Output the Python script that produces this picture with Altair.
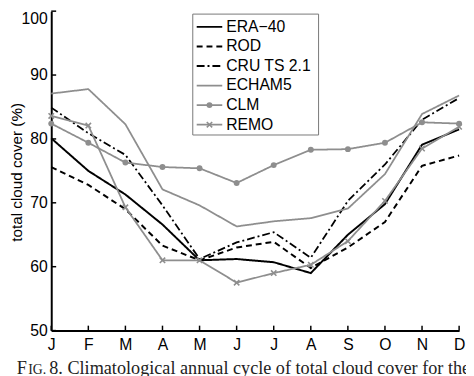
import altair as alt
import pandas as pd

months = ["J", "F", "M", "A", "M", "J", "J", "A", "S", "O", "N", "D"]
era40 = [80.1, 75.0, 71.3, 66.6, 61.0, 61.2, 60.7, 59.0, 65.0, 69.8, 79.1, 81.5]
rod = [75.6, 72.8, 69.0, 63.3, 61.0, 63.0, 63.9, 59.8, 63.0, 67.0, 75.8, 77.4]
cru = [84.9, 80.9, 77.5, 69.6, 61.2, 63.8, 65.4, 61.4, 70.3, 76.0, 83.0, 86.4]
echam5 = [87.1, 87.8, 82.3, 72.1, 69.6, 66.3, 67.1, 67.6, 69.1, 74.5, 83.9, 86.8]
clm = [82.4, 79.4, 76.3, 75.6, 75.4, 73.1, 75.9, 78.3, 78.4, 79.4, 82.6, 82.4]
remo = [83.6, 82.1, 69.3, 61.0, 61.0, 57.5, 59.0, 60.3, 64.0, 70.3, 78.5, 81.9]
series_names = ["ERA\u221240", "ROD", "CRU TS 2.1", "ECHAM5", "CLM", "REMO"]
y_ticks = [50, 60, 70, 80, 90, 100]
caption_first = "F"
caption_caps = "IG."
caption_rest = "8. Climatological annual cycle of total cloud cover for the"

GRAY = "#8e8e8e"
FONT = "Liberation Sans"
W, H = 415, 325

styles = [
    dict(color="black", dash=[1, 0], width=2.0, marker=None),
    dict(color="black", dash=[6, 4], width=2.0, marker=None),
    dict(color="black", dash=[8, 3, 2, 3], width=1.8, marker=None),
    dict(color=GRAY, dash=[1, 0], width=1.8, marker=None),
    dict(color=GRAY, dash=[1, 0], width=1.8, marker="circle"),
    dict(color=GRAY, dash=[1, 0], width=1.8, marker="M-1,-1L1,1M-1,1L1,-1"),
]
values = [era40, rod, cru, echam5, clm, remo]

x_scale = alt.Scale(domain=[0, 11], nice=False, zero=False)
y_scale = alt.Scale(domain=[50, 100], nice=False, zero=False)
label_expr = "[" + ",".join("'%s'" % m for m in months) + "][datum.value]"

x_axis = alt.Axis(values=list(range(12)), tickCount=12, labelExpr=label_expr,
                  title=None, grid=False, ticks=False, domainColor="black",
                  domainWidth=2, labelFont=FONT, labelFontSize=16,
                  labelColor="black", labelPadding=6, labelFlush=False,
                  labelOverlap=False, labelBound=False)
y_axis = alt.Axis(values=y_ticks, title="total cloud cover (%)", grid=False,
                  ticks=False, domainColor="black", domainWidth=2,
                  labelFont=FONT, labelFontSize=16, labelColor="black",
                  labelPadding=4, labelFlush=False, labelOverlap=False,
                  labelBaseline=alt.expr("datum.value == 100 ? 'top' : 'middle'"),
                  titleFont=FONT, titleFontSize=15.5, titleFontWeight="normal",
                  titleColor="black", titleAngle=270, titleX=-35, titleY=H / 2 + 1,
                  titleAlign="center", titleBaseline="middle")


def X(field="m:Q"):
    return alt.X(field, scale=x_scale, axis=x_axis)


def Y(field="v:Q"):
    return alt.Y(field, scale=y_scale, axis=y_axis)


layers = []

# inward ticks (also carry the axes)
xt = pd.DataFrame({"m": list(range(12))})
layers.append(alt.Chart(xt).mark_rule(color="black", strokeWidth=1.5).encode(
    x=X(), y=alt.value(H), y2=alt.value(H - 5)))
yt = pd.DataFrame({"v": y_ticks})
layers.append(alt.Chart(yt).mark_rule(color="black", strokeWidth=1.5).encode(
    y=Y(), x=alt.value(0), x2=alt.value(5)))

# data lines
for name, vals, st in zip(series_names, values, styles):
    df = pd.DataFrame({"m": list(range(12)), "v": vals})
    layers.append(alt.Chart(df).mark_line(
        color=st["color"], strokeDash=st["dash"], strokeWidth=st["width"]).encode(
        x=X(), y=Y()))
    if st["marker"] == "circle":
        layers.append(alt.Chart(df).mark_point(
            shape="circle", filled=True, color=st["color"], size=36, opacity=1).encode(
            x=X(), y=Y()))
    elif st["marker"]:
        layers.append(alt.Chart(df).mark_point(
            shape=st["marker"], filled=False, color=st["color"], size=30,
            strokeWidth=1.6, opacity=1).encode(x=X(), y=Y()))

# legend box
leg_left, leg_right, leg_top, leg_bot = 144, 272, 3, 126
box = pd.DataFrame({"a": [0]})
layers.append(alt.Chart(box).mark_rect(fill="white", stroke="#777777", strokeWidth=1).encode(
    x=alt.value(leg_left), x2=alt.value(leg_right), y=alt.value(leg_top), y2=alt.value(leg_bot)))
for i, (name, st) in enumerate(zip(series_names, styles)):
    ry = 16 + 19.9 * i
    d = pd.DataFrame({"t": [name]})
    layers.append(alt.Chart(d).mark_rule(
        color=st["color"], strokeDash=st["dash"], strokeWidth=st["width"]).encode(
        x=alt.value(148), x2=alt.value(174), y=alt.value(ry)))
    if st["marker"] == "circle":
        layers.append(alt.Chart(d).mark_point(
            shape="circle", filled=True, color=st["color"], size=36, opacity=1).encode(
            x=alt.value(161), y=alt.value(ry)))
    elif st["marker"]:
        layers.append(alt.Chart(d).mark_point(
            shape=st["marker"], filled=False, color=st["color"], size=30,
            strokeWidth=1.6, opacity=1).encode(x=alt.value(161), y=alt.value(ry)))
    layers.append(alt.Chart(d).mark_text(
        font=FONT, fontSize=16, color="black", align="left", baseline="middle").encode(
        x=alt.value(178), y=alt.value(ry), text="t:N"))

# caption (small caps "FIG.")
cap_y = 369
for txt, xpos, fs in [(caption_first, -35, 18.5), (caption_caps, -23.5, 14), (caption_rest, -2, 18.5)]:
    c = pd.DataFrame({"t": [txt]})
    layers.append(alt.Chart(c).mark_text(
        font="Liberation Serif", fontSize=fs, color="#222222", align="left",
        baseline="alphabetic").encode(x=alt.value(xpos), y=alt.value(cap_y), text="t:N"))

chart = alt.layer(*layers).properties(
    width=W, height=H,
    autosize=alt.AutoSizeParams(type="none"),
    padding={"left": 44, "top": 0, "right": 7, "bottom": 43},
).configure_view(stroke=None)

chart.save("out.html", embed_options={"renderer": "svg", "actions": False})
